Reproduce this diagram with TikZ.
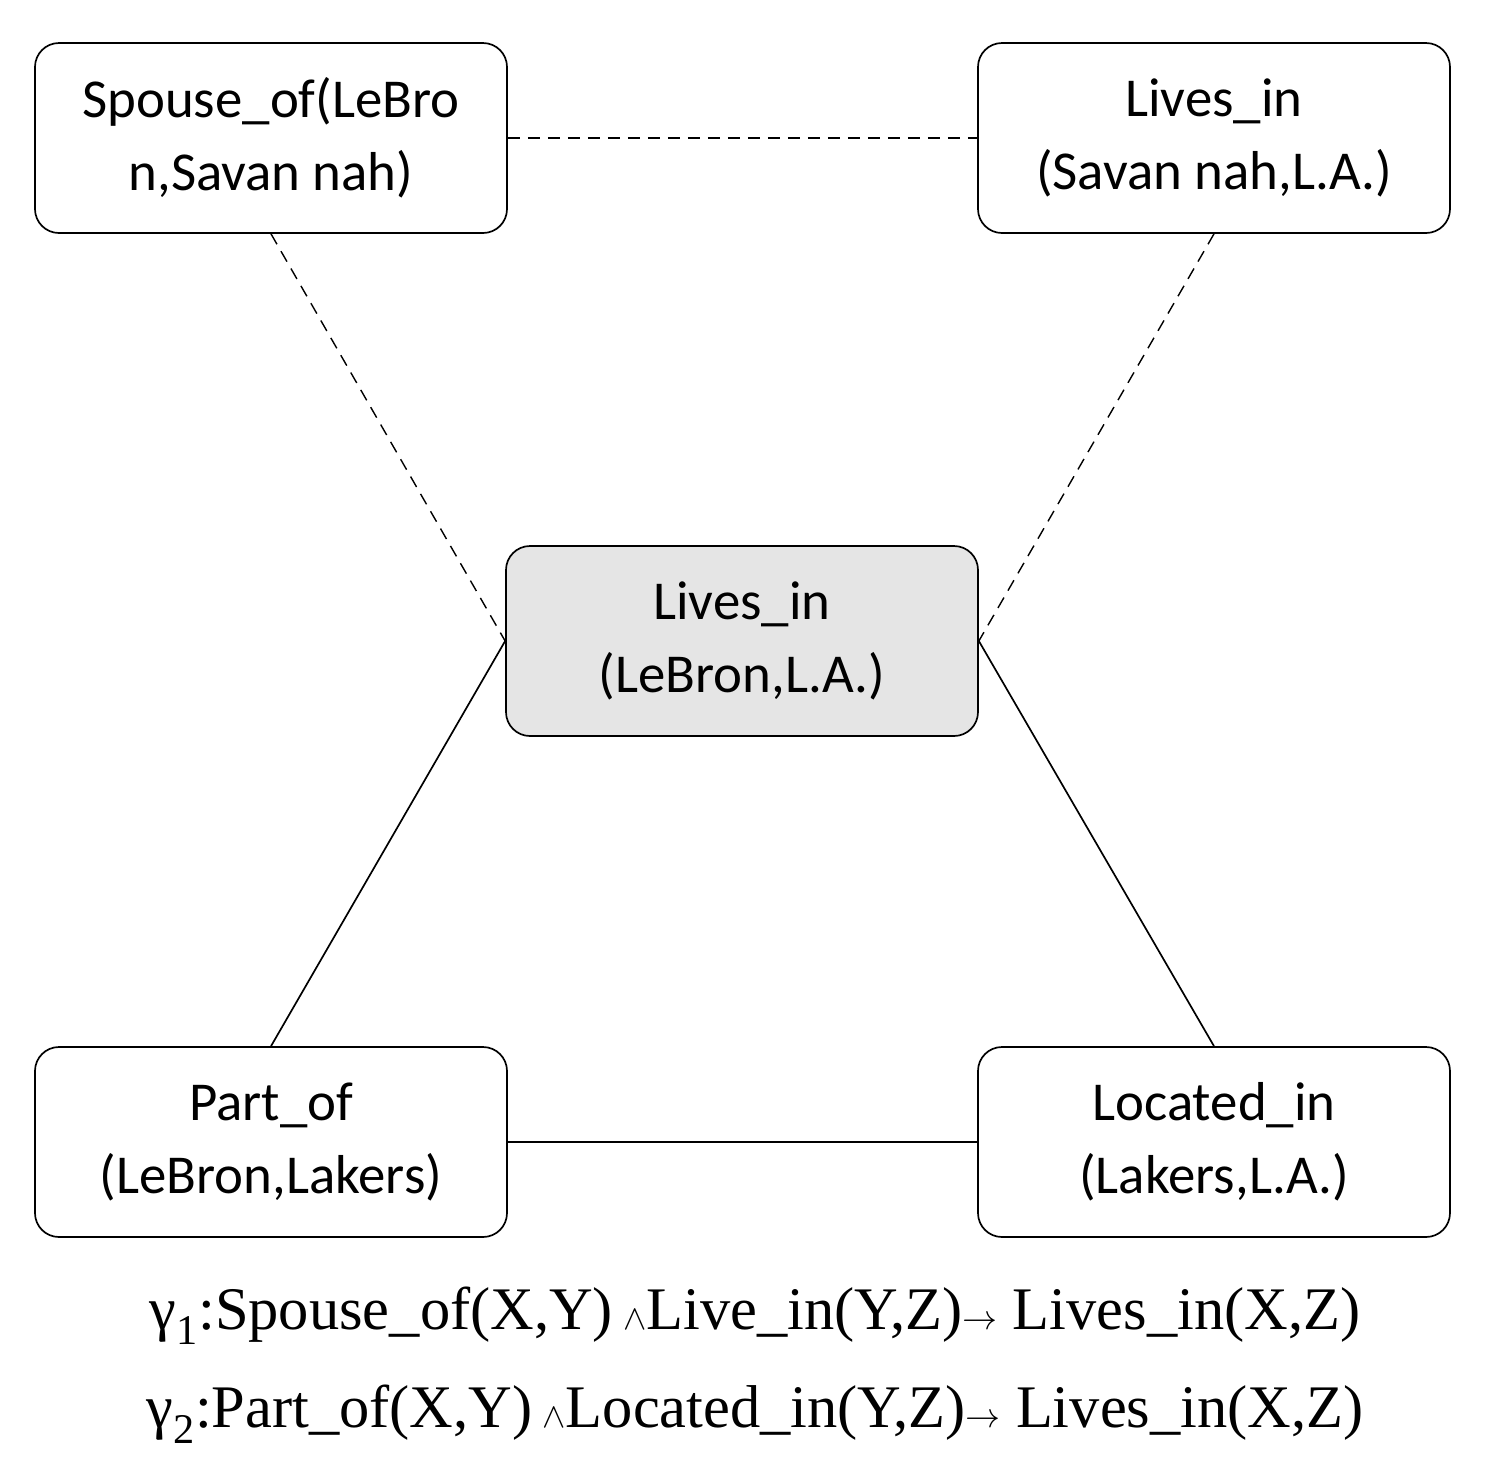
\documentclass[tikz,border=0pt]{standalone}
\usepackage{fontspec}
\setmainfont{Carlito}
\newfontfamily\tms{Liberation Serif}
\begin{document}
\begin{tikzpicture}[x=0.25mm,y=-0.25mm,
 box/.style={draw,line width=1.2pt,rounded corners=6mm,minimum width=118mm,minimum height=47.5mm,align=center,inner sep=0pt,font=\fontsize{39}{52}\selectfont},
 dsh/.style={line width=1pt,dash pattern=on 3mm off 2mm},
 sol/.style={line width=1.2pt}]
\useasboundingbox (0,0) rectangle (1488,1466);
\node[box] (tl) at (271,138) {Spouse\_of(LeBro\\n,Savan nah)};
\node[box] (tr) at (1214,138) {Lives\_in\\(Savan nah,L.A.)};
\node[box,fill=black!10] (c) at (742,641) {Lives\_in\\(LeBron,L.A.)};
\node[box] (bl) at (271,1142) {Part\_of\\(LeBron,Lakers)};
\node[box] (br) at (1214,1142) {Located\_in\\(Lakers,L.A.)};
\draw[dsh] (tl.east) -- (tr.west);
\draw[dsh] (tl.south) -- (c.west);
\draw[dsh] (tr.south) -- (c.east);
\draw[sol] (bl.north) -- (c.west);
\draw[sol] (br.north) -- (c.east);
\draw[sol] (bl.east) -- (br.west);
\node[font=\tms\fontsize{43}{70}\selectfont,align=center] (f) at (755,1365)
 {γ\textsubscript{1}:Spouse\_of(X,Y)\,$\wedge$Live\_in(Y,Z)$\rightarrow$ Lives\_in(X,Z)\\
  γ\textsubscript{2}:Part\_of(X,Y)\,$\wedge$Located\_in(Y,Z)$\rightarrow$ Lives\_in(X,Z)};
\end{tikzpicture}
\end{document}
